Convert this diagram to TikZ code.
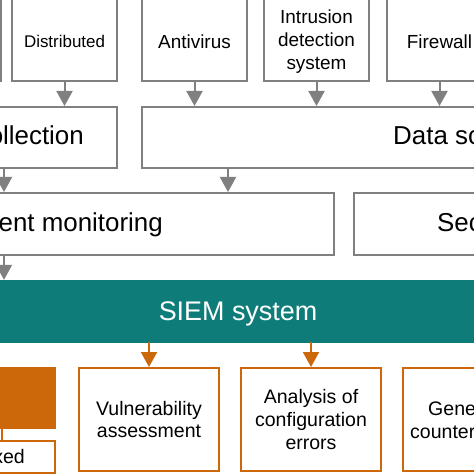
\documentclass[tikz,border=0pt]{standalone}
\usepackage{fontspec}
\setmainfont{Liberation Sans}
\usetikzlibrary{arrows.meta}
\definecolor{boxgray}{RGB}{128,128,128}
\definecolor{siemteal}{RGB}{14,125,122}
\definecolor{siemorange}{RGB}{204,104,10}
\begin{document}
\begin{tikzpicture}[x=1bp,y=-1bp,
  graybox/.style={draw=boxgray,line width=2bp,fill=white,rectangle,inner sep=0pt,align=center},
  orangebox/.style={draw=siemorange,line width=2bp,fill=white,rectangle,inner sep=0pt,align=center},
  grayarr/.style={draw=boxgray,line width=2bp,-{Triangle[width=16bp,length=15bp]}},
  orangearr/.style={draw=siemorange,line width=2bp,-{Triangle[width=16bp,length=15bp]}},
  toptxt/.style={font=\fontsize{19}{23}\selectfont,align=center,yshift=-1.5bp},
  bottxt/.style={font=\fontsize{19.6}{23}\selectfont},
  bigtxt/.style={font=\fontsize{26}{31}\selectfont,inner sep=0pt}
]
\useasboundingbox (0,0) rectangle (474,474);
\clip (0,0) rectangle (474,474);
\fill[white] (0,0) rectangle (474,474);

% top row
\node[graybox,minimum width=61bp,minimum height=82bp] (topl) at (-29.5,40) {};
\node[graybox,minimum width=105bp,minimum height=82bp,
  label={[toptxt,font=\fontsize{17}{20}\selectfont]center:Distributed}] (dist) at (64.5,40) {};
\node[graybox,minimum width=105bp,minimum height=82bp,
  label={[toptxt]center:Antivirus}] (anti) at (194.5,40) {};
\node[graybox,minimum width=105bp,minimum height=82bp,
  label={[toptxt]center:Intrusion\\detection\\system}] (ids) at (316.5,40) {};
\node[graybox,minimum width=105bp,minimum height=82bp,
  label={[toptxt]center:Firewall}] (fw) at (439.5,40) {};

% second row
\node[graybox,minimum width=226bp,minimum height=61bp] (coll) at (4,137.5) {};
\node[graybox,minimum width=378bp,minimum height=61bp] (datasc) at (331,137.5) {};
\node[bigtxt,anchor=base east] (colltxt) at (84,145) {ollection};
\node[bigtxt,anchor=base west] (dstxt) at (393,145) {Data sc};

% third row
\node[graybox,minimum width=534bp,minimum height=62bp] (mon) at (67,224) {};
\node[graybox,minimum width=206bp,minimum height=62bp] (sec) at (457,224) {};
\node[bigtxt,anchor=base east] (montxt) at (163,232) {ent monitoring};
\node[bigtxt,anchor=base west] (sectxt) at (437,232) {Sec};

% SIEM bar
\node[fill=siemteal,draw=siemteal,minimum width=494bp,minimum height=62bp,inner sep=0pt] (siem) at (237,311) {};
\node[font=\fontsize{27}{32}\selectfont,text=white,inner sep=0pt,anchor=base] (siemtxt) at (238,320) {SIEM system};

% bottom row
\node[fill=siemorange,draw=siemorange,line width=2bp,minimum width=115bp,minimum height=60bp,inner sep=0pt] (obox) at (-2.5,398) {};
\node[orangebox,minimum width=115bp,minimum height=32bp] (xbox) at (-2.5,457) {};
\node[bottxt,inner sep=0pt,anchor=base east] (xtxt) at (25,463) {xed};
\node[orangebox,minimum width=140bp,minimum height=103bp,bottxt] (vul) at (149,419.5) {Vulnerability\\assessment};
\node[orangebox,minimum width=140bp,minimum height=103bp,bottxt] (ana) at (311,419.5) {Analysis of\\configuration\\errors};
\node[orangebox,minimum width=140bp,minimum height=103bp] (gen) at (473,419.5) {};
\node[bottxt,inner sep=0pt,anchor=base west] (gentxt1) at (428,415) {Gene};
\node[bottxt,inner sep=0pt,anchor=base west] (gentxt2) at (410,438) {counter};

% connectors
\draw[grayarr] (dist.south) -- (dist.south |- coll.north);
\draw[grayarr] (anti.south) -- (anti.south |- datasc.north);
\draw[grayarr] (ids.south) -- (ids.south |- datasc.north);
\draw[grayarr] (fw.south) -- (fw.south |- datasc.north);
\draw[grayarr] (coll.south) -- (coll.south |- mon.north);
\path (datasc.south west) ++(87,0) coordinate (dsout);
\draw[grayarr] (dsout) -- (dsout |- mon.north);
\draw[grayarr] (coll.south |- mon.south) -- (coll.south |- siem.north);
\draw[orangearr] (vul.north |- siem.south) -- (vul.north);
\draw[orangearr] (ana.north |- siem.south) -- (ana.north);
\path (obox.south west) ++(63,0) coordinate (olink);
\draw[draw=siemorange,line width=1.5bp] (olink) -- (olink |- xbox.north);
\end{tikzpicture}
\end{document}
